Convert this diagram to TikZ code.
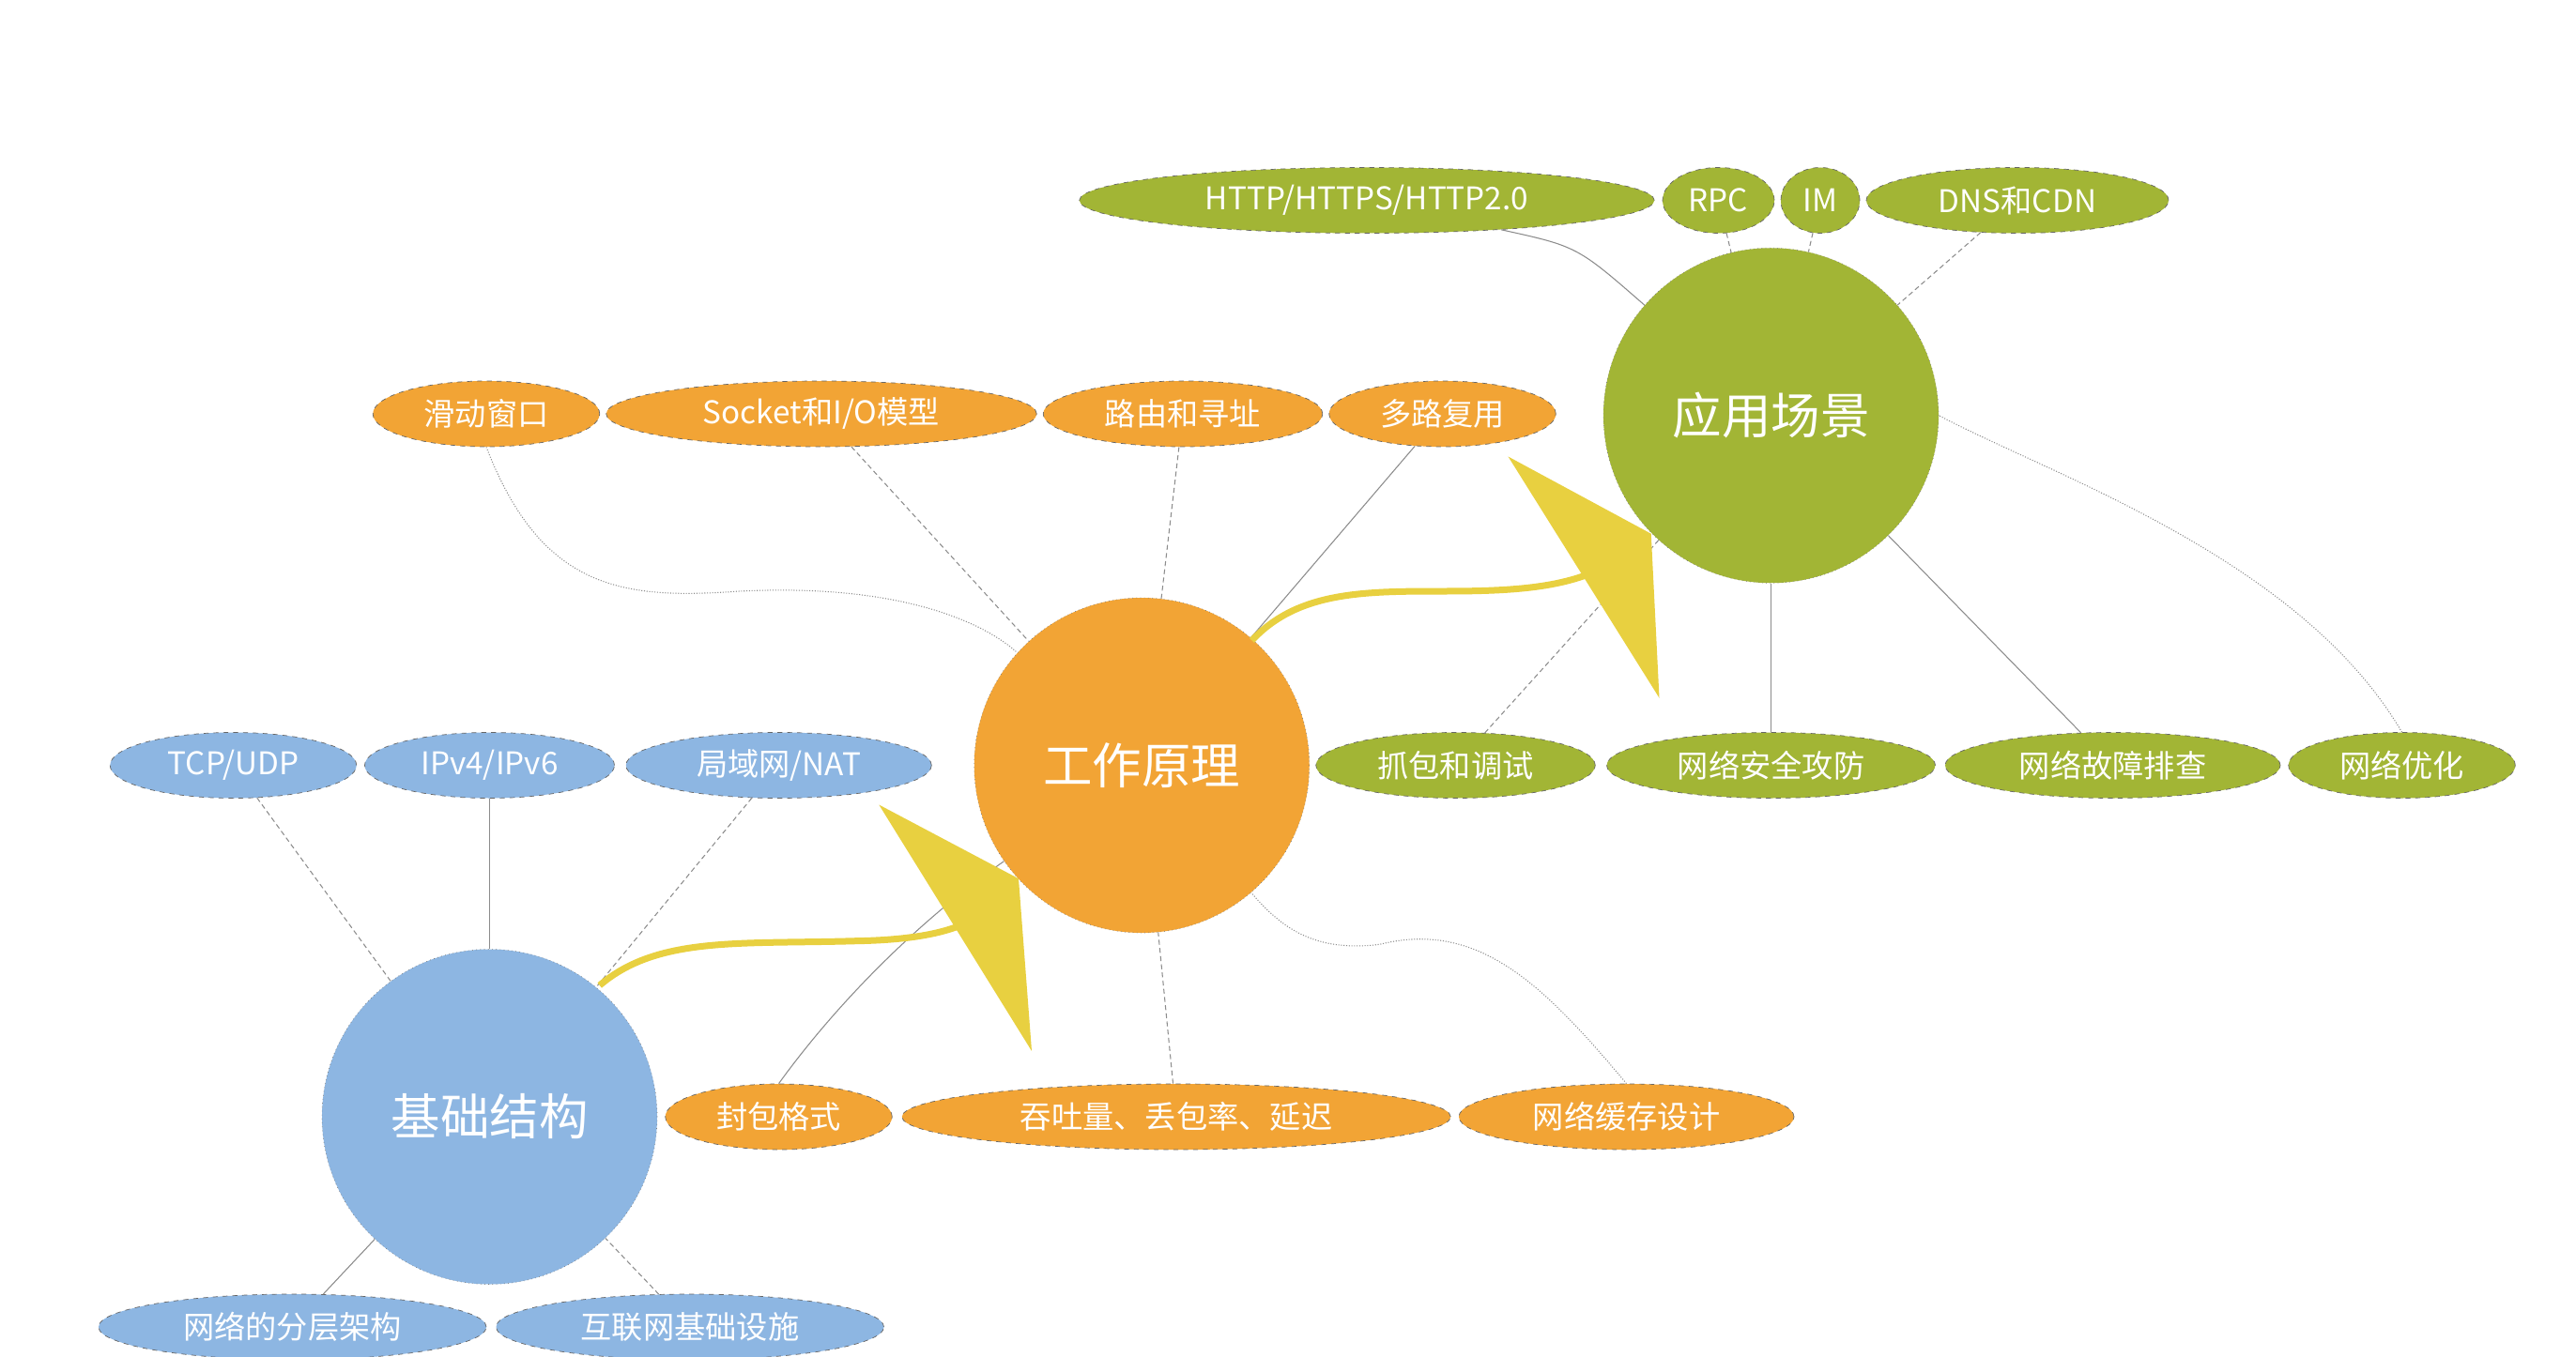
\documentclass[tikz,border=0pt]{standalone}
\usepackage{fontspec}
\setmainfont{Noto Sans CJK SC}
\usetikzlibrary{shapes.geometric}
\definecolor{gr}{HTML}{A2B535}
\definecolor{og}{HTML}{F2A435}
\definecolor{bl}{HTML}{8DB6E2}
\definecolor{yl}{HTML}{E8D040}
\begin{document}
\begin{tikzpicture}[x=1pt,y=-1pt,
  big/.style={circle,minimum size=204pt,inner sep=0pt,text=white,font=\fontsize{30}{30}\selectfont,draw=black!50,dotted},
  el/.style={ellipse,minimum height=40pt,inner sep=0pt,text=white,font=\fontsize{19}{19}\selectfont,draw=black!60,dashed},
  ln/.style={draw=black!45,line width=0.6pt,densely dashed},
  ya/.style={draw=yl,line width=4pt}]
\useasboundingbox (0,0) rectangle (1568,826);
\fill[white] (0,0) rectangle (1568,826);
% big circles
\node[big,fill=gr] (app) at (1078,253) {应用场景};
\node[big,fill=og] (work) at (695,466) {工作原理};
\node[big,fill=bl] (base) at (298,680) {基础结构};
% green
\foreach \n/\x/\y/\w/\t in {g1/832/122/350/HTTP/HTTPS/HTTP2.0}{}
\node[el,fill=gr,minimum width=350pt] (g1) at (832,122) {HTTP/HTTPS/HTTP2.0};
\node[el,fill=gr,minimum width=68pt] (g2) at (1046,122) {RPC};
\node[el,fill=gr,minimum width=48pt] (g3) at (1108,122) {IM};
\node[el,fill=gr,minimum width=184pt] (g4) at (1228,122) {DNS和CDN};
\node[el,fill=gr,minimum width=170pt] (g5) at (886,466) {抓包和调试};
\node[el,fill=gr,minimum width=200pt] (g6) at (1078,466) {网络安全攻防};
\node[el,fill=gr,minimum width=204pt] (g7) at (1286,466) {网络故障排查};
\node[el,fill=gr,minimum width=138pt] (g8) at (1462,466) {网络优化};
% orange
\node[el,fill=og,minimum width=138pt] (o1) at (296,252) {滑动窗口};
\node[el,fill=og,minimum width=262pt] (o2) at (500,252) {Socket和I/O模型};
\node[el,fill=og,minimum width=170pt] (o3) at (720,252) {路由和寻址};
\node[el,fill=og,minimum width=138pt] (o4) at (878,252) {多路复用};
\node[el,fill=og,minimum width=138pt] (o5) at (474,680) {封包格式};
\node[el,fill=og,minimum width=334pt] (o6) at (716,680) {吞吐量、丢包率、延迟};
\node[el,fill=og,minimum width=204pt] (o7) at (990,680) {网络缓存设计};
% blue
\node[el,fill=bl,minimum width=150pt] (b1) at (142,466) {TCP/UDP};
\node[el,fill=bl,minimum width=152pt] (b2) at (298,466) {IPv4/IPv6};
\node[el,fill=bl,minimum width=186pt] (b3) at (474,466) {局域网/NAT};
\node[el,fill=bl,minimum width=236pt] (b4) at (178,808) {网络的分层架构};
\node[el,fill=bl,minimum width=236pt] (b5) at (420,808) {互联网基础设施};
% connectors
\begin{scope}[on background layer/.style={}]
\end{scope}
\draw[ln,solid] (g1) .. controls (960,150) .. (app);
\draw[ln] (g2) -- (app); \draw[ln] (g3) -- (app); \draw[ln] (g4) -- (app);
\draw[ln] (g5) -- (app);
\draw[ln,solid] (g6) -- (app);
\draw[ln,solid] (g7) -- (app);
\draw[ln,densely dotted] (g8.north) .. controls (1400,340) and (1250,290) .. (app.east);
\draw[ln,densely dotted] (o1.south) .. controls (330,360) and (380,365) .. (450,360) .. controls (550,355) and (600,380) .. (work);
\draw[ln] (o2) -- (work); \draw[ln] (o3) -- (work); \draw[ln,solid] (o4) -- (work);
\draw[ln,solid] (o5.north) .. controls (510,610) and (560,560) .. (work);
\draw[ln] (o6) -- (work);
\draw[ln,densely dotted] (o7.north) .. controls (940,600) and (900,560) .. (840,575) .. controls (800,580) and (780,565) .. (work);
\draw[ln] (b1) -- (base); \draw[ln,solid] (b2) -- (base); \draw[ln] (b3) -- (base);
\draw[ln,solid] (b4) -- (base); \draw[ln] (b5) -- (base);
% yellow arrows
\draw[ya] (365,600) .. controls (400,570) and (450,575) .. (520,573) .. controls (580,572) and (600,560) .. (615,540);
\fill[yl] (535,490) -- (628,640) -- (620,535) -- cycle;
\draw[ya] (762,390) .. controls (790,360) and (830,360) .. (880,360) .. controls (940,360) and (970,355) .. (1000,330);
\fill[yl] (918,278) -- (1010,425) -- (1005,325) -- cycle;
\end{tikzpicture}
\end{document}
